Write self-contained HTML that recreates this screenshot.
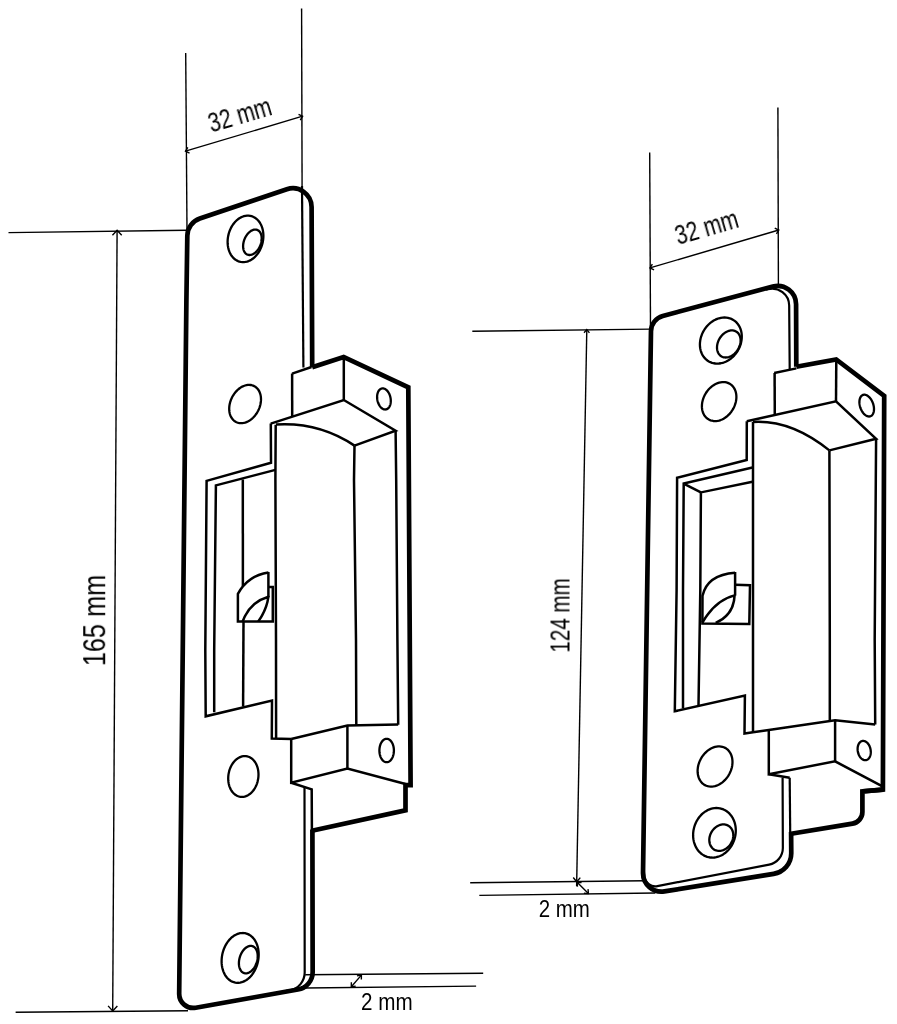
<!DOCTYPE html>
<html><head><meta charset="utf-8"><title>Electric strike dimensions</title>
<style>
html,body{margin:0;padding:0;background:#fff;}
body{width:897px;height:1024px;overflow:hidden;}
svg{display:block;}
svg path, svg ellipse{fill:none;stroke:#000;}
svg text{font-family:"Liberation Sans",sans-serif;fill:#000;stroke:none;}
.tx{opacity:0.999;will-change:transform;}
</style></head>
<body>
<svg width="897" height="1024" viewBox="0 0 897 1024">
<path d="M185.7 53 L187 231" stroke-width="1.4" stroke-linejoin="miter" stroke-linecap="butt"/>
<path d="M301.6 8.5 L302.1 192" stroke-width="1.4" stroke-linejoin="miter" stroke-linecap="butt"/>
<path d="M302 186 L303.4 367.5" stroke-width="2.2" stroke-linejoin="miter" stroke-linecap="butt"/>
<path d="M185.5 151.2 L302.6 116.2" stroke-width="1.4" stroke-linejoin="miter" stroke-linecap="butt"/>
<path d="M187.84 147.36 L185.5 151.2 L189.57 153.13" stroke-width="1.4" stroke-linejoin="miter" stroke-linecap="butt"/>
<path d="M300.26 120.04 L302.6 116.2 L298.53 114.27" stroke-width="1.4" stroke-linejoin="miter" stroke-linecap="butt"/>
<text class="tx" transform="translate(239.6 114) rotate(-16.3) scale(0.77 1)" x="0" y="9.76" font-size="27.5" text-anchor="middle">32 mm</text>
<path d="M8.5 232.6 L186.5 230.3" stroke-width="1.4" stroke-linejoin="miter" stroke-linecap="butt"/>
<path d="M15.6 1012.3 L188 1010.8" stroke-width="1.4" stroke-linejoin="miter" stroke-linecap="butt"/>
<path d="M117.1 230.3 L112.7 1010.9" stroke-width="1.4" stroke-linejoin="miter" stroke-linecap="butt"/>
<path d="M121.71 235.3 L117.1 230.3 L112.43 235.25" stroke-width="1.4" stroke-linejoin="miter" stroke-linecap="butt"/>
<path d="M108.09 1005.9 L112.7 1010.9 L117.37 1005.95" stroke-width="1.4" stroke-linejoin="miter" stroke-linecap="butt"/>
<text class="tx" transform="translate(94.2 620.45) rotate(-90) scale(0.8 1)" x="0" y="11.22" font-size="31.6" text-anchor="middle">165 mm</text>
<path d="M305.2 974.7 L483.2 973.2" stroke-width="1.4" stroke-linejoin="miter" stroke-linecap="butt"/>
<path d="M305.2 988 L476.1 986.1" stroke-width="1.4" stroke-linejoin="miter" stroke-linecap="butt"/>
<path d="M351.3 986.8 L361.4 975.1" stroke-width="1.4" stroke-linejoin="miter" stroke-linecap="butt"/>
<path d="M351.36 982.3 L351.3 986.8 L355.74 986.08" stroke-width="1.4" stroke-linejoin="miter" stroke-linecap="butt"/>
<path d="M361.34 979.6 L361.4 975.1 L356.96 975.82" stroke-width="1.4" stroke-linejoin="miter" stroke-linecap="butt"/>
<text class="tx" transform="translate(386.9 1001.5) rotate(0) scale(0.84 1)" x="0" y="8.73" font-size="24.6" text-anchor="middle">2 mm</text>
<path d="M186.4 300 L187.32 235.6 A18.35 18.35 0 0 1 199.82 218.47 L286.85 189.27 A18.78 18.78 0 0 1 311.6 207 L312.2 367.2" stroke-width="4.7" stroke-linejoin="miter" stroke-linecap="butt"/>
<path d="M312.2 367.2 L343.7 357 L408.3 387.3 L410.6 785.2 L405.5 785.2 L405.5 810.4 L311.9 830.8" stroke-width="4.7" stroke-linejoin="miter" stroke-linecap="butt"/>
<path d="M312.4 829.5 L312.67 971.9 A17.87 17.87 0 0 1 297.93 989.53 L195.74 1007.72 A14.09 14.09 0 0 1 179.18 993.7 L186.4 300" stroke-width="4.7" stroke-linejoin="miter" stroke-linecap="butt"/>
<path d="M304.5 787.5 L304.69 972.6 A17.86 17.86 0 0 1 289.93 990.21 L286 990.9" stroke-width="2.2" stroke-linejoin="miter" stroke-linecap="butt"/>
<path d="M292.1 373.6 L311.5 367" stroke-width="2.5" stroke-linejoin="miter" stroke-linecap="butt"/>
<path d="M292.1 373.6 L292.2 417" stroke-width="2.5" stroke-linejoin="miter" stroke-linecap="butt"/>
<path d="M343.8 356.6 L343.8 400" stroke-width="2.5" stroke-linejoin="miter" stroke-linecap="butt"/>
<path d="M270.7 423.6 L343.8 400 L395.6 430.8 L354.5 445.6" stroke-width="2.5" stroke-linejoin="miter" stroke-linecap="butt"/>
<path d="M395.6 430.8 L396.2 480 L397.4 640 L398.2 724.8" stroke-width="2.5" stroke-linejoin="miter" stroke-linecap="butt"/>
<path d="M354.5 445.6 L354 480 L356 640 L356.3 725.6" stroke-width="2.5" stroke-linejoin="miter" stroke-linecap="butt"/>
<path d="M276 424.5 Q319 421.8 354.5 445.6" stroke-width="2.5" stroke-linejoin="miter" stroke-linecap="butt"/>
<path d="M275.7 424.7 L275.4 480 L276 640 L276.1 739" stroke-width="2.5" stroke-linejoin="miter" stroke-linecap="butt"/>
<path d="M270.8 423.5 L271 462.7 L206.6 480.9 L205.3 650 L205.7 716.3 L272 700.6 L271.8 738.6 L291.2 739" stroke-width="2.5" stroke-linejoin="miter" stroke-linecap="butt"/>
<path d="M275.4 469.9 L215.9 485.4 L214.2 650 L214.2 712.3" stroke-width="2.5" stroke-linejoin="miter" stroke-linecap="butt"/>
<path d="M242.8 479.5 L242.9 586.2" stroke-width="2.5" stroke-linejoin="miter" stroke-linecap="butt"/>
<path d="M243.5 621.5 L243.1 706.6" stroke-width="2.5" stroke-linejoin="miter" stroke-linecap="butt"/>
<path d="M268.4 572.6 Q247.85 575.75 237.9 593.9 L237.9 621.5 L272.8 621.5 L272.8 586.9 L268.4 586.9" stroke-width="2.5" stroke-linejoin="miter" stroke-linecap="butt"/>
<path d="M268.4 572 L268.4 597.2" stroke-width="2.5" stroke-linejoin="miter" stroke-linecap="butt"/>
<path d="M242.7 621.5 Q249.45 602.3 268.4 596.7 Q266.7 609.9 258.2 621.5" stroke-width="2.5" stroke-linejoin="round" stroke-linecap="butt"/>
<path d="M291.2 739 L347.4 725.6 L398.2 724.6" stroke-width="2.5" stroke-linejoin="miter" stroke-linecap="butt"/>
<path d="M347.4 725.6 L347.4 768.5" stroke-width="2.5" stroke-linejoin="miter" stroke-linecap="butt"/>
<path d="M291.2 739 L291.2 782.7 L347.4 768.5 L405.5 784" stroke-width="2.5" stroke-linejoin="miter" stroke-linecap="butt"/>
<path d="M291.2 782.7 L311.7 789.3 L311.9 830.8" stroke-width="2.5" stroke-linejoin="miter" stroke-linecap="butt"/>
<path d="M390.8 400.87 L390.77 401.76 L390.7 402.64 L390.57 403.49 L390.39 404.3 L390.16 405.07 L389.88 405.8 L389.56 406.47 L389.2 407.09 L388.79 407.64 L388.35 408.13 L387.88 408.55 L387.38 408.89 L386.84 409.16 L386.29 409.35 L385.72 409.47 L385.14 409.5 L384.55 409.45 L383.95 409.32 L383.35 409.12 L382.76 408.83 L382.18 408.47 L381.61 408.04 L381.06 407.54 L380.52 406.98 L380.02 406.35 L379.55 405.66 L379.11 404.93 L378.7 404.15 L378.34 403.33 L378.02 402.48 L377.74 401.6 L377.51 400.7 L377.33 399.78 L377.2 398.86 L377.13 397.94 L377.1 397.03 L377.13 396.14 L377.2 395.26 L377.33 394.41 L377.51 393.6 L377.74 392.83 L378.02 392.1 L378.34 391.43 L378.7 390.81 L379.11 390.26 L379.55 389.77 L380.02 389.35 L380.52 389.01 L381.06 388.74 L381.61 388.55 L382.18 388.43 L382.76 388.4 L383.35 388.45 L383.95 388.58 L384.55 388.78 L385.14 389.07 L385.72 389.43 L386.29 389.86 L386.84 390.36 L387.38 390.92 L387.88 391.55 L388.35 392.24 L388.79 392.97 L389.2 393.75 L389.56 394.57 L389.88 395.42 L390.16 396.3 L390.39 397.2 L390.57 398.12 L390.7 399.04 L390.77 399.96 Z" stroke-width="2.3" stroke-linejoin="round" stroke-linecap="butt"/>
<path d="M393.9 750.5 L393.87 751.52 L393.79 752.53 L393.65 753.53 L393.46 754.5 L393.22 755.44 L392.93 756.35 L392.59 757.21 L392.2 758.02 L391.78 758.77 L391.31 759.46 L390.81 760.08 L390.27 760.63 L389.71 761.1 L389.13 761.49 L388.53 761.8 L387.91 762.02 L387.28 762.16 L386.65 762.2 L386.02 762.16 L385.39 762.02 L384.77 761.8 L384.17 761.49 L383.59 761.1 L383.02 760.63 L382.49 760.08 L381.99 759.46 L381.52 758.77 L381.1 758.02 L380.71 757.21 L380.37 756.35 L380.08 755.44 L379.84 754.5 L379.65 753.53 L379.51 752.53 L379.43 751.52 L379.4 750.5 L379.43 749.48 L379.51 748.47 L379.65 747.47 L379.84 746.5 L380.08 745.56 L380.37 744.65 L380.71 743.79 L381.1 742.98 L381.52 742.23 L381.99 741.54 L382.49 740.92 L383.02 740.37 L383.59 739.9 L384.17 739.51 L384.77 739.2 L385.39 738.98 L386.02 738.84 L386.65 738.8 L387.28 738.84 L387.91 738.98 L388.53 739.2 L389.13 739.51 L389.71 739.9 L390.27 740.37 L390.81 740.92 L391.31 741.54 L391.78 742.23 L392.2 742.98 L392.59 743.79 L392.93 744.65 L393.22 745.56 L393.46 746.5 L393.65 747.47 L393.79 748.47 L393.87 749.48 Z" stroke-width="2.3" stroke-linejoin="round" stroke-linecap="butt"/>
<path d="M263.4 235.86 L263.33 237.88 L263.13 239.91 L262.79 241.93 L262.32 243.92 L261.72 245.88 L261 247.79 L260.16 249.63 L259.21 251.39 L258.16 253.05 L257.01 254.6 L255.77 256.04 L254.45 257.34 L253.06 258.5 L251.62 259.52 L250.13 260.38 L248.61 261.07 L247.06 261.6 L245.5 261.95 L243.94 262.13 L242.39 262.13 L240.87 261.95 L239.38 261.6 L237.94 261.08 L236.55 260.38 L235.23 259.53 L233.99 258.51 L232.84 257.35 L231.79 256.05 L230.84 254.61 L230 253.06 L229.28 251.4 L228.68 249.64 L228.21 247.81 L227.87 245.9 L227.67 243.94 L227.6 241.94 L227.67 239.92 L227.87 237.89 L228.21 235.87 L228.68 233.88 L229.28 231.92 L230 230.01 L230.84 228.17 L231.79 226.41 L232.84 224.75 L233.99 223.2 L235.23 221.76 L236.55 220.46 L237.94 219.3 L239.38 218.28 L240.87 217.42 L242.39 216.73 L243.94 216.2 L245.5 215.85 L247.06 215.67 L248.61 215.67 L250.13 215.85 L251.62 216.2 L253.06 216.72 L254.45 217.42 L255.77 218.27 L257.01 219.29 L258.16 220.45 L259.21 221.75 L260.16 223.19 L261 224.74 L261.72 226.4 L262.32 228.16 L262.79 229.99 L263.13 231.9 L263.33 233.86 Z" stroke-width="2.3" stroke-linejoin="round" stroke-linecap="butt"/>
<path d="M261.7 238.39 L261.66 239.46 L261.56 240.55 L261.38 241.65 L261.14 242.76 L260.83 243.87 L260.45 244.96 L260.02 246.03 L259.52 247.08 L258.98 248.08 L258.38 249.05 L257.73 249.96 L257.05 250.81 L256.33 251.6 L255.58 252.32 L254.81 252.96 L254.01 253.52 L253.21 254 L252.4 254.38 L251.59 254.68 L250.79 254.88 L249.99 254.98 L249.22 254.99 L248.47 254.9 L247.75 254.72 L247.07 254.44 L246.42 254.07 L245.82 253.61 L245.28 253.06 L244.78 252.43 L244.35 251.72 L243.97 250.95 L243.66 250.1 L243.42 249.2 L243.24 248.25 L243.14 247.24 L243.1 246.21 L243.14 245.14 L243.24 244.05 L243.42 242.95 L243.66 241.84 L243.97 240.73 L244.35 239.64 L244.78 238.57 L245.28 237.52 L245.82 236.52 L246.42 235.55 L247.07 234.64 L247.75 233.79 L248.47 233 L249.22 232.28 L249.99 231.64 L250.79 231.08 L251.59 230.6 L252.4 230.22 L253.21 229.92 L254.01 229.72 L254.81 229.62 L255.58 229.61 L256.33 229.7 L257.05 229.88 L257.73 230.16 L258.38 230.53 L258.98 230.99 L259.52 231.54 L260.02 232.17 L260.45 232.88 L260.83 233.65 L261.14 234.5 L261.38 235.4 L261.56 236.35 L261.66 237.36 Z" stroke-width="2.3" stroke-linejoin="round" stroke-linecap="butt"/>
<path d="M261 399.28 L260.94 400.91 L260.76 402.57 L260.46 404.24 L260.04 405.91 L259.51 407.56 L258.87 409.19 L258.12 410.78 L257.28 412.32 L256.34 413.79 L255.32 415.19 L254.22 416.51 L253.05 417.73 L251.82 418.84 L250.54 419.85 L249.22 420.73 L247.86 421.49 L246.49 422.11 L245.1 422.6 L243.71 422.94 L242.34 423.14 L240.98 423.2 L239.66 423.11 L238.38 422.87 L237.15 422.5 L235.98 421.98 L234.88 421.32 L233.86 420.54 L232.92 419.63 L232.08 418.6 L231.33 417.45 L230.69 416.21 L230.16 414.88 L229.74 413.46 L229.44 411.97 L229.26 410.42 L229.2 408.82 L229.26 407.19 L229.44 405.53 L229.74 403.86 L230.16 402.19 L230.69 400.54 L231.33 398.91 L232.08 397.32 L232.92 395.78 L233.86 394.31 L234.88 392.91 L235.98 391.59 L237.15 390.37 L238.38 389.26 L239.66 388.25 L240.98 387.37 L242.34 386.61 L243.71 385.99 L245.1 385.5 L246.49 385.16 L247.86 384.96 L249.22 384.9 L250.54 384.99 L251.82 385.23 L253.05 385.6 L254.22 386.12 L255.32 386.78 L256.34 387.56 L257.28 388.47 L258.12 389.5 L258.87 390.65 L259.51 391.89 L260.04 393.22 L260.46 394.64 L260.76 396.13 L260.94 397.68 Z" stroke-width="2.3" stroke-linejoin="round" stroke-linecap="butt"/>
<path d="M258.5 774.53 L258.44 776.31 L258.27 778.09 L257.98 779.85 L257.59 781.59 L257.08 783.3 L256.47 784.95 L255.76 786.53 L254.96 788.04 L254.06 789.46 L253.09 790.79 L252.04 792 L250.92 793.1 L249.75 794.07 L248.53 794.91 L247.27 795.6 L245.98 796.15 L244.67 796.56 L243.35 796.8 L242.03 796.9 L240.72 796.84 L239.43 796.62 L238.17 796.25 L236.95 795.73 L235.78 795.07 L234.66 794.26 L233.61 793.32 L232.64 792.25 L231.74 791.06 L230.94 789.76 L230.23 788.36 L229.62 786.87 L229.11 785.3 L228.72 783.66 L228.43 781.97 L228.26 780.23 L228.2 778.47 L228.26 776.69 L228.43 774.91 L228.72 773.15 L229.11 771.41 L229.62 769.7 L230.23 768.05 L230.94 766.47 L231.74 764.96 L232.64 763.54 L233.61 762.21 L234.66 761 L235.77 759.9 L236.95 758.93 L238.17 758.09 L239.43 757.4 L240.72 756.85 L242.03 756.44 L243.35 756.2 L244.67 756.1 L245.98 756.16 L247.27 756.38 L248.53 756.75 L249.75 757.27 L250.92 757.93 L252.04 758.74 L253.09 759.68 L254.06 760.75 L254.96 761.94 L255.76 763.24 L256.47 764.64 L257.08 766.13 L257.59 767.7 L257.98 769.34 L258.27 771.03 L258.44 772.77 Z" stroke-width="2.3" stroke-linejoin="round" stroke-linecap="butt"/>
<path d="M258.7 954.56 L258.63 956.72 L258.42 958.9 L258.07 961.06 L257.58 963.2 L256.96 965.3 L256.21 967.35 L255.35 969.32 L254.36 971.2 L253.27 972.99 L252.07 974.66 L250.79 976.2 L249.43 977.6 L247.99 978.85 L246.49 979.95 L244.95 980.87 L243.37 981.62 L241.77 982.19 L240.15 982.58 L238.53 982.77 L236.93 982.78 L235.35 982.6 L233.81 982.23 L232.31 981.67 L230.88 980.94 L229.51 980.03 L228.23 978.95 L227.03 977.71 L225.94 976.32 L224.95 974.79 L224.09 973.13 L223.34 971.35 L222.72 969.48 L222.23 967.51 L221.88 965.47 L221.67 963.38 L221.6 961.24 L221.67 959.08 L221.88 956.9 L222.23 954.74 L222.72 952.6 L223.34 950.5 L224.09 948.45 L224.95 946.48 L225.94 944.6 L227.03 942.81 L228.23 941.14 L229.51 939.6 L230.88 938.2 L232.31 936.95 L233.81 935.85 L235.35 934.93 L236.93 934.18 L238.53 933.61 L240.15 933.22 L241.77 933.03 L243.37 933.02 L244.95 933.2 L246.49 933.57 L247.99 934.13 L249.42 934.86 L250.79 935.77 L252.07 936.85 L253.27 938.09 L254.36 939.48 L255.35 941.01 L256.21 942.67 L256.96 944.45 L257.58 946.32 L258.07 948.29 L258.42 950.33 L258.63 952.42 Z" stroke-width="2.3" stroke-linejoin="round" stroke-linecap="butt"/>
<path d="M257.7 956.08 L257.66 957.25 L257.56 958.44 L257.38 959.64 L257.13 960.83 L256.82 962.02 L256.44 963.2 L256 964.34 L255.5 965.45 L254.95 966.51 L254.34 967.53 L253.69 968.48 L253 969.36 L252.27 970.17 L251.51 970.91 L250.73 971.55 L249.93 972.11 L249.12 972.57 L248.3 972.93 L247.48 973.19 L246.67 973.35 L245.87 973.4 L245.09 973.35 L244.33 973.19 L243.6 972.94 L242.91 972.58 L242.26 972.12 L241.65 971.56 L241.1 970.92 L240.6 970.19 L240.16 969.38 L239.78 968.5 L239.47 967.55 L239.22 966.54 L239.04 965.47 L238.94 964.37 L238.9 963.22 L238.94 962.05 L239.04 960.86 L239.22 959.66 L239.47 958.47 L239.78 957.28 L240.16 956.1 L240.6 954.96 L241.1 953.85 L241.65 952.79 L242.26 951.77 L242.91 950.82 L243.6 949.94 L244.33 949.13 L245.09 948.39 L245.87 947.75 L246.67 947.19 L247.48 946.73 L248.3 946.37 L249.12 946.11 L249.93 945.95 L250.73 945.9 L251.51 945.95 L252.27 946.11 L253 946.36 L253.69 946.72 L254.34 947.18 L254.95 947.74 L255.5 948.38 L256 949.11 L256.44 949.92 L256.82 950.8 L257.13 951.75 L257.38 952.76 L257.56 953.83 L257.66 954.93 Z" stroke-width="2.3" stroke-linejoin="round" stroke-linecap="butt"/>
<path d="M649.7 152.4 L650.5 329.5" stroke-width="1.4" stroke-linejoin="miter" stroke-linecap="butt"/>
<path d="M777.9 107.4 L778.4 285" stroke-width="1.4" stroke-linejoin="miter" stroke-linecap="butt"/>
<path d="M650 267.9 L778.8 230" stroke-width="1.4" stroke-linejoin="miter" stroke-linecap="butt"/>
<path d="M652.36 264.07 L650 267.9 L654.06 269.84" stroke-width="1.4" stroke-linejoin="miter" stroke-linecap="butt"/>
<path d="M776.44 233.83 L778.8 230 L774.74 228.06" stroke-width="1.4" stroke-linejoin="miter" stroke-linecap="butt"/>
<text class="tx" transform="translate(706.4 226.4) rotate(-16.3) scale(0.77 1)" x="0" y="9.76" font-size="27.5" text-anchor="middle">32 mm</text>
<path d="M472.3 331.3 L651 329.1" stroke-width="1.4" stroke-linejoin="miter" stroke-linecap="butt"/>
<path d="M586.8 329.6 L576.62 886.3" stroke-width="1.4" stroke-linejoin="miter" stroke-linecap="butt"/>
<path d="M589.44 332.87 L586.8 329.6 L584.04 332.77" stroke-width="1.4" stroke-linejoin="miter" stroke-linecap="butt"/>
<path d="M573.24 877.52 L576.7 881.8 L580.31 877.65" stroke-width="1.4" stroke-linejoin="miter" stroke-linecap="butt"/>
<text class="tx" transform="translate(559.5 615.4) rotate(-90) scale(0.73 1)" x="0" y="10.01" font-size="28.2" text-anchor="middle">124 mm</text>
<path d="M470.2 882.8 L644.6 880.7" stroke-width="1.4" stroke-linejoin="miter" stroke-linecap="butt"/>
<path d="M479.3 895.4 L655.3 893" stroke-width="1.4" stroke-linejoin="miter" stroke-linecap="butt"/>
<path d="M577.1 882.2 L588.4 893.6" stroke-width="1.4" stroke-linejoin="miter" stroke-linecap="butt"/>
<path d="M581.58 882.61 L577.1 882.2 L577.47 886.68" stroke-width="1.4" stroke-linejoin="miter" stroke-linecap="butt"/>
<path d="M583.92 893.19 L588.4 893.6 L588.03 889.12" stroke-width="1.4" stroke-linejoin="miter" stroke-linecap="butt"/>
<text class="tx" transform="translate(564.3 908.1) rotate(0) scale(0.84 1)" x="0" y="8.66" font-size="24.4" text-anchor="middle">2 mm</text>
<path d="M650.7 350 L650.98 331.1 A15.88 15.88 0 0 1 662.74 316 L772.82 286.51 A18.48 18.48 0 0 1 796.08 304.3 L796.3 366.7" stroke-width="4.7" stroke-linejoin="miter" stroke-linecap="butt"/>
<path d="M796.3 366.7 L836.2 359.5 L884.2 396 L882.9 789.6 L862.4 791.4" stroke-width="4.7" stroke-linejoin="miter" stroke-linecap="butt"/>
<path d="M883.5 789.6 L862.4 791.4 L862.4 812 A11.77 11.77 0 0 1 852.53 823.62 L791.1 833.7" stroke-width="4.7" stroke-linejoin="miter" stroke-linecap="butt"/>
<path d="M791.1 832 L791.26 853 A20.96 20.96 0 0 1 773.63 873.86 L664.42 891.41 A18.47 18.47 0 0 1 643.02 872.9 L650.7 350" stroke-width="4.7" stroke-linejoin="miter" stroke-linecap="butt"/>
<path d="M766 289.6 L767.71 289.15 A17.14 17.14 0 0 1 789.18 305.6 L789.7 369.6" stroke-width="2.2" stroke-linejoin="miter" stroke-linecap="butt"/>
<path d="M782.6 777.7 L782.85 848 A16.89 16.89 0 0 1 769.15 864.64 L657.38 886.13 A10.94 10.94 0 0 1 644.43 876.46 L643.6 868" stroke-width="2.2" stroke-linejoin="miter" stroke-linecap="butt"/>
<path d="M789.7 777.8 L790.2 832.6" stroke-width="2.2" stroke-linejoin="miter" stroke-linecap="butt"/>
<path d="M774.2 373 L796.3 368.4" stroke-width="2.5" stroke-linejoin="miter" stroke-linecap="butt"/>
<path d="M774.6 373 L774.8 415.6" stroke-width="2.5" stroke-linejoin="miter" stroke-linecap="butt"/>
<path d="M836.3 359.8 L836 401.4" stroke-width="2.5" stroke-linejoin="miter" stroke-linecap="butt"/>
<path d="M746.8 421.3 L836 401.4 L876.1 438.8 L829.4 450.4" stroke-width="2.5" stroke-linejoin="miter" stroke-linecap="butt"/>
<path d="M876.1 438.8 L875.8 480 L874.7 640 L875.2 724.4" stroke-width="2.5" stroke-linejoin="miter" stroke-linecap="butt"/>
<path d="M829.4 450.4 L829.8 640 L829.8 720.5" stroke-width="2.5" stroke-linejoin="miter" stroke-linecap="butt"/>
<path d="M753 421.9 Q791 419.5 829.4 450.4" stroke-width="2.5" stroke-linejoin="miter" stroke-linecap="butt"/>
<path d="M753 421.9 L753 732.4" stroke-width="2.5" stroke-linejoin="miter" stroke-linecap="butt"/>
<path d="M746.8 421.3 L746.7 460 L677.1 477.8 L676.6 590 L674.8 711.3 L744.9 695.6 L744.5 733.5 L753 732.3" stroke-width="2.5" stroke-linejoin="miter" stroke-linecap="butt"/>
<path d="M752.5 467.5 L683.7 483.5 L683 590 L683 708.6" stroke-width="2.5" stroke-linejoin="miter" stroke-linecap="butt"/>
<path d="M752.5 481.7 L700.9 492.4 L700.3 590 L698.5 705.5" stroke-width="2.5" stroke-linejoin="miter" stroke-linecap="butt"/>
<path d="M684.6 484.2 L700.9 492.4" stroke-width="2.5" stroke-linejoin="miter" stroke-linecap="butt"/>
<path d="M735.1 572.7 Q707.2 574.75 702.5 595.8 L702.4 623.5 L749.3 623.9 L750.0 585.3 L735.1 584.7" stroke-width="2.5" stroke-linejoin="miter" stroke-linecap="butt"/>
<path d="M735.1 572 L735.1 595.6" stroke-width="2.5" stroke-linejoin="miter" stroke-linecap="butt"/>
<path d="M702.4 622.5 Q715.55 600.05 734.6 595.4 Q733.9 614.85 715.7 622.9" stroke-width="2.5" stroke-linejoin="round" stroke-linecap="butt"/>
<path d="M753 732.3 L768.8 729.9 L835.1 720.3 L875.2 724.4" stroke-width="2.5" stroke-linejoin="miter" stroke-linecap="butt"/>
<path d="M768.8 730 L768.8 774.2 L835.1 761.3 L881.5 785.8" stroke-width="2.5" stroke-linejoin="miter" stroke-linecap="butt"/>
<path d="M835.1 720.3 L835.1 761.3" stroke-width="2.5" stroke-linejoin="miter" stroke-linecap="butt"/>
<path d="M768.8 774.2 L789.7 777.8" stroke-width="2.5" stroke-linejoin="miter" stroke-linecap="butt"/>
<path d="M874 409.1 L873.97 409.99 L873.89 410.84 L873.75 411.66 L873.56 412.42 L873.32 413.14 L873.02 413.8 L872.68 414.39 L872.29 414.92 L871.86 415.38 L871.39 415.76 L870.89 416.06 L870.35 416.29 L869.79 416.44 L869.2 416.5 L868.59 416.48 L867.97 416.37 L867.34 416.19 L866.7 415.92 L866.06 415.58 L865.43 415.16 L864.81 414.66 L864.2 414.1 L863.61 413.47 L863.05 412.79 L862.51 412.05 L862.01 411.25 L861.54 410.42 L861.11 409.55 L860.72 408.65 L860.38 407.73 L860.08 406.79 L859.84 405.84 L859.65 404.89 L859.51 403.94 L859.43 403.01 L859.4 402.1 L859.43 401.21 L859.51 400.36 L859.65 399.54 L859.84 398.78 L860.08 398.06 L860.38 397.4 L860.72 396.81 L861.11 396.28 L861.54 395.82 L862.01 395.44 L862.51 395.14 L863.05 394.91 L863.61 394.76 L864.2 394.7 L864.81 394.72 L865.43 394.83 L866.06 395.01 L866.7 395.28 L867.34 395.62 L867.97 396.04 L868.59 396.54 L869.2 397.1 L869.79 397.73 L870.35 398.41 L870.89 399.15 L871.39 399.95 L871.86 400.78 L872.29 401.65 L872.68 402.55 L873.02 403.47 L873.32 404.41 L873.56 405.36 L873.75 406.31 L873.89 407.26 L873.97 408.19 Z" stroke-width="2.3" stroke-linejoin="round" stroke-linecap="butt"/>
<path d="M870.8 752.07 L870.77 752.89 L870.7 753.7 L870.58 754.48 L870.4 755.24 L870.18 755.95 L869.92 756.63 L869.61 757.26 L869.26 757.84 L868.87 758.36 L868.44 758.83 L867.99 759.23 L867.5 759.56 L866.99 759.83 L866.46 760.02 L865.91 760.15 L865.35 760.2 L864.78 760.18 L864.2 760.08 L863.62 759.91 L863.05 759.67 L862.49 759.36 L861.94 758.99 L861.41 758.55 L860.9 758.04 L860.41 757.49 L859.96 756.87 L859.53 756.22 L859.14 755.51 L858.79 754.77 L858.48 754 L858.22 753.2 L858 752.38 L857.82 751.55 L857.7 750.71 L857.63 749.87 L857.6 749.03 L857.63 748.21 L857.7 747.4 L857.82 746.62 L858 745.86 L858.22 745.15 L858.48 744.47 L858.79 743.84 L859.14 743.26 L859.53 742.74 L859.96 742.27 L860.41 741.87 L860.9 741.54 L861.41 741.27 L861.94 741.08 L862.49 740.95 L863.05 740.9 L863.62 740.92 L864.2 741.02 L864.78 741.19 L865.35 741.43 L865.91 741.74 L866.46 742.11 L866.99 742.55 L867.5 743.06 L867.99 743.61 L868.44 744.23 L868.87 744.88 L869.26 745.59 L869.61 746.33 L869.92 747.1 L870.18 747.9 L870.4 748.72 L870.58 749.55 L870.7 750.39 L870.77 751.23 Z" stroke-width="2.3" stroke-linejoin="round" stroke-linecap="butt"/>
<path d="M741.8 336.57 L741.72 338.56 L741.48 340.57 L741.09 342.58 L740.54 344.57 L739.84 346.54 L738.99 348.45 L738.01 350.31 L736.9 352.09 L735.66 353.79 L734.32 355.38 L732.87 356.86 L731.33 358.22 L729.7 359.44 L728.02 360.52 L726.27 361.45 L724.49 362.22 L722.68 362.82 L720.85 363.25 L719.02 363.51 L717.21 363.6 L715.43 363.51 L713.68 363.25 L712 362.81 L710.38 362.2 L708.83 361.43 L707.38 360.5 L706.04 359.42 L704.8 358.19 L703.69 356.83 L702.71 355.35 L701.86 353.75 L701.16 352.06 L700.61 350.27 L700.22 348.41 L699.98 346.49 L699.9 344.53 L699.98 342.54 L700.22 340.53 L700.61 338.52 L701.16 336.53 L701.86 334.56 L702.71 332.65 L703.69 330.79 L704.8 329.01 L706.04 327.31 L707.38 325.72 L708.83 324.24 L710.38 322.88 L712 321.66 L713.68 320.58 L715.43 319.65 L717.21 318.88 L719.02 318.28 L720.85 317.85 L722.68 317.59 L724.49 317.5 L726.27 317.59 L728.02 317.85 L729.7 318.29 L731.33 318.9 L732.87 319.67 L734.32 320.6 L735.66 321.68 L736.9 322.91 L738.01 324.27 L738.99 325.75 L739.84 327.35 L740.54 329.04 L741.09 330.83 L741.48 332.69 L741.72 334.61 Z" stroke-width="2.3" stroke-linejoin="round" stroke-linecap="butt"/>
<path d="M740.6 340.41 L740.56 341.56 L740.42 342.73 L740.2 343.92 L739.89 345.1 L739.49 346.27 L739.02 347.42 L738.47 348.55 L737.84 349.65 L737.14 350.7 L736.38 351.69 L735.57 352.63 L734.7 353.51 L733.79 354.31 L732.84 355.03 L731.85 355.67 L730.85 356.22 L729.83 356.67 L728.8 357.03 L727.77 357.29 L726.75 357.45 L725.75 357.5 L724.76 357.45 L723.81 357.3 L722.9 357.05 L722.03 356.69 L721.22 356.24 L720.46 355.7 L719.76 355.07 L719.13 354.35 L718.58 353.56 L718.11 352.69 L717.71 351.75 L717.4 350.75 L717.18 349.71 L717.04 348.62 L717 347.49 L717.04 346.34 L717.18 345.17 L717.4 343.98 L717.71 342.8 L718.11 341.63 L718.58 340.48 L719.13 339.35 L719.76 338.25 L720.46 337.2 L721.22 336.21 L722.03 335.27 L722.9 334.39 L723.81 333.59 L724.76 332.87 L725.75 332.23 L726.75 331.68 L727.77 331.23 L728.8 330.87 L729.83 330.61 L730.85 330.45 L731.85 330.4 L732.84 330.45 L733.79 330.6 L734.7 330.85 L735.57 331.21 L736.38 331.66 L737.14 332.2 L737.84 332.83 L738.47 333.55 L739.02 334.34 L739.49 335.21 L739.89 336.15 L740.2 337.15 L740.42 338.19 L740.56 339.28 Z" stroke-width="2.3" stroke-linejoin="round" stroke-linecap="butt"/>
<path d="M736.4 396.94 L736.33 398.61 L736.14 400.3 L735.81 402 L735.36 403.7 L734.78 405.38 L734.09 407.03 L733.28 408.65 L732.36 410.2 L731.35 411.7 L730.24 413.11 L729.04 414.44 L727.77 415.67 L726.44 416.79 L725.05 417.8 L723.61 418.68 L722.15 419.44 L720.65 420.06 L719.15 420.54 L717.65 420.87 L716.15 421.06 L714.69 421.1 L713.25 420.99 L711.86 420.73 L710.52 420.33 L709.26 419.78 L708.06 419.1 L706.95 418.28 L705.94 417.34 L705.02 416.28 L704.21 415.1 L703.52 413.82 L702.94 412.45 L702.49 411 L702.16 409.47 L701.97 407.89 L701.9 406.26 L701.97 404.59 L702.16 402.9 L702.49 401.2 L702.94 399.5 L703.52 397.82 L704.21 396.17 L705.02 394.55 L705.94 393 L706.95 391.5 L708.06 390.09 L709.26 388.76 L710.52 387.53 L711.86 386.41 L713.25 385.4 L714.69 384.52 L716.15 383.76 L717.65 383.14 L719.15 382.66 L720.65 382.33 L722.15 382.14 L723.61 382.1 L725.05 382.21 L726.44 382.47 L727.77 382.87 L729.04 383.42 L730.24 384.1 L731.35 384.92 L732.36 385.86 L733.28 386.92 L734.09 388.1 L734.78 389.38 L735.36 390.75 L735.81 392.2 L736.14 393.73 L736.33 395.31 Z" stroke-width="2.3" stroke-linejoin="round" stroke-linecap="butt"/>
<path d="M732.5 761.96 L732.43 763.69 L732.23 765.43 L731.91 767.19 L731.45 768.93 L730.87 770.66 L730.16 772.36 L729.34 774.01 L728.42 775.61 L727.39 777.14 L726.27 778.58 L725.06 779.94 L723.77 781.19 L722.42 782.33 L721.02 783.35 L719.57 784.24 L718.08 785 L716.57 785.61 L715.05 786.08 L713.53 786.4 L712.02 786.57 L710.53 786.59 L709.08 786.45 L707.68 786.16 L706.32 785.73 L705.04 785.14 L703.83 784.42 L702.71 783.55 L701.68 782.56 L700.76 781.45 L699.94 780.22 L699.23 778.89 L698.65 777.46 L698.19 775.95 L697.87 774.37 L697.67 772.73 L697.6 771.04 L697.67 769.31 L697.87 767.57 L698.19 765.81 L698.65 764.07 L699.23 762.34 L699.94 760.64 L700.76 758.99 L701.68 757.39 L702.71 755.86 L703.83 754.42 L705.04 753.06 L706.32 751.81 L707.68 750.67 L709.08 749.65 L710.53 748.76 L712.02 748 L713.53 747.39 L715.05 746.92 L716.57 746.6 L718.08 746.43 L719.57 746.41 L721.02 746.55 L722.42 746.84 L723.77 747.27 L725.06 747.86 L726.27 748.58 L727.39 749.45 L728.42 750.44 L729.34 751.55 L730.16 752.78 L730.87 754.11 L731.45 755.54 L731.91 757.05 L732.23 758.63 L732.43 760.27 Z" stroke-width="2.3" stroke-linejoin="round" stroke-linecap="butt"/>
<path d="M735.8 830.45 L735.72 832.61 L735.48 834.77 L735.07 836.92 L734.51 839.04 L733.8 841.11 L732.94 843.11 L731.94 845.04 L730.81 846.87 L729.55 848.6 L728.17 850.2 L726.7 851.68 L725.12 853.01 L723.47 854.18 L721.75 855.2 L719.98 856.04 L718.16 856.71 L716.31 857.19 L714.45 857.49 L712.59 857.6 L710.74 857.52 L708.92 857.26 L707.15 856.8 L705.43 856.17 L703.78 855.36 L702.2 854.37 L700.73 853.22 L699.35 851.92 L698.09 850.47 L696.96 848.88 L695.96 847.18 L695.1 845.36 L694.39 843.45 L693.83 841.46 L693.42 839.4 L693.18 837.29 L693.1 835.15 L693.18 832.99 L693.42 830.83 L693.83 828.68 L694.39 826.56 L695.1 824.49 L695.96 822.49 L696.96 820.56 L698.09 818.73 L699.35 817 L700.73 815.4 L702.2 813.92 L703.78 812.59 L705.43 811.42 L707.15 810.4 L708.92 809.56 L710.74 808.89 L712.59 808.41 L714.45 808.11 L716.31 808 L718.16 808.08 L719.98 808.34 L721.75 808.8 L723.47 809.43 L725.12 810.24 L726.7 811.23 L728.17 812.38 L729.55 813.68 L730.81 815.13 L731.94 816.72 L732.94 818.42 L733.8 820.24 L734.51 822.15 L735.07 824.14 L735.48 826.2 L735.72 828.31 Z" stroke-width="2.3" stroke-linejoin="round" stroke-linecap="butt"/>
<path d="M733.3 835.25 L733.25 836.39 L733.12 837.55 L732.89 838.7 L732.58 839.85 L732.18 840.98 L731.69 842.09 L731.13 843.16 L730.49 844.19 L729.79 845.17 L729.01 846.09 L728.18 846.95 L727.3 847.74 L726.37 848.45 L725.4 849.07 L724.41 849.62 L723.38 850.07 L722.35 850.42 L721.3 850.68 L720.25 850.84 L719.22 850.9 L718.19 850.86 L717.2 850.72 L716.23 850.47 L715.3 850.14 L714.42 849.7 L713.59 849.17 L712.81 848.56 L712.11 847.86 L711.47 847.09 L710.91 846.24 L710.42 845.33 L710.02 844.36 L709.71 843.34 L709.48 842.28 L709.35 841.18 L709.3 840.05 L709.35 838.91 L709.48 837.75 L709.71 836.6 L710.02 835.45 L710.42 834.32 L710.91 833.21 L711.47 832.14 L712.11 831.11 L712.81 830.13 L713.59 829.21 L714.42 828.35 L715.3 827.56 L716.23 826.85 L717.2 826.23 L718.19 825.68 L719.22 825.23 L720.25 824.88 L721.3 824.62 L722.35 824.46 L723.38 824.4 L724.41 824.44 L725.4 824.58 L726.37 824.83 L727.3 825.16 L728.18 825.6 L729.01 826.13 L729.79 826.74 L730.49 827.44 L731.13 828.21 L731.69 829.06 L732.18 829.97 L732.58 830.94 L732.89 831.96 L733.12 833.02 L733.25 834.12 Z" stroke-width="2.3" stroke-linejoin="round" stroke-linecap="butt"/>
</svg>
</body></html>
